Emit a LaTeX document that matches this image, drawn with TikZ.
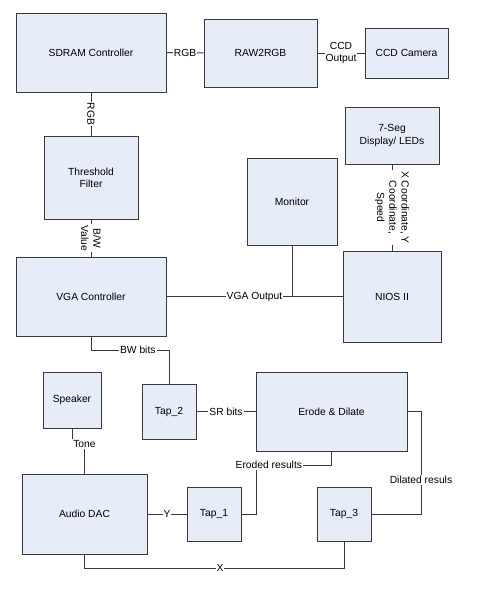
\documentclass[tikz,border=0pt]{standalone}
\usepackage{fontspec}
\setmainfont{Liberation Sans}
\usepackage{tikz}
\usetikzlibrary{shapes,backgrounds,arrows}

\definecolor{boxfill}{RGB}{230,236,248}
\definecolor{boxline}{RGB}{58,58,58}

\tikzset{
  blk/.style={draw=boxline,fill=boxfill,line width=1pt,shape=rectangle,align=center,inner sep=0pt},
  lbl/.style={fill=white,inner sep=1pt,align=center,font=\fontsize{10.3}{12.3}\selectfont},
  wire/.style={draw=boxline,line width=1pt}
}

\begin{document}
\begin{tikzpicture}[x=1pt,y=-1pt,font=\fontsize{10.3}{12.3}\selectfont]
            \useasboundingbox (0,0) rectangle (485,597);
            % \draw[step=10,color=gray!40] (0,0) grid (485,597);
            \foreach \x/\y/\w/\h/\name/\txt in {91/52.5/150/79/sdram/{SDRAM Controller},260.5/53/113/68/raw/RAW2RGB,
                406.5/53/83/50/ccd/{CCD Camera},392/135.5/94/57/seg/{7-Seg\\Display/ LEDs},91/177.5/94/83/thr/{Threshold\\Filter},
                292/201.5/90/87/mon/Monitor,91/296.5/150/79/vga/{VGA Controller},392/296.5/98/91/nios/{NIOS II},
                72/400/58/56/spk/Speaker,169/411.5/54/55/tapb/Tap\_2,331.5/411.5/151/79/ed/{Erode \& Dilate},
                84.5/514/125/80/dac/{Audio DAC},214/514/54/54/tapa/Tap\_1,344/514/54/54/tapc/Tap\_3}{
                \node[blk,minimum width=\w pt,minimum height=\h pt,name=\name] at (\x,\y) {\txt};
            }
            \coordinate (bw) at (169,350);
            \coordinate (er) at (256,465);
            \coordinate (dl) at (421,514);
            \coordinate (tn) at (84.5,444);
            \coordinate (xx) at (344,568);
            \foreach \from/\to/\txt in {sdram.east/raw.west/RGB,raw.east/ccd.west/{CCD\\Output},vga.east/nios.west/{VGA Output},
                tapb.east/ed.west/{SR bits},dac.east/tapa.west/Y} {
                \draw[wire] (\from) -- node[lbl]{\txt} (\to);
            }
            \draw[wire] (sdram.south) -- node[lbl,rotate=-90]{RGB} (thr.north);
            \draw[wire] (thr.south) -- node[lbl,rotate=-90]{B/W\\Value} (vga.north);
            \draw[wire] (nios.north) -- node[lbl,rotate=-90]{X Coordinate, Y\\Coordinate,\\Speed} (seg.south);
            \draw[wire] (mon.south) -- (mon.south |- nios.west);
            \draw[wire] (vga.south) |- node[lbl,pos=0.8]{BW bits} (bw) -- (tapb.north);
            \draw[wire] (ed.south) |- node[lbl,pos=0.915]{Eroded results} (er) |- (tapa.east);
            \draw[wire] (ed.east) -| node[lbl,pos=0.834]{Dilated resuls} (dl) -- (tapc.east);
            \draw[wire] (spk.south) |- (tn) -- (dac.north);
            \node[lbl] (tone) at (tn) {Tone};
            \draw[wire] (dac.south) |- node[lbl,pos=0.761]{X} (xx) -- (tapc.south);
        \end{tikzpicture}
\end{document}
